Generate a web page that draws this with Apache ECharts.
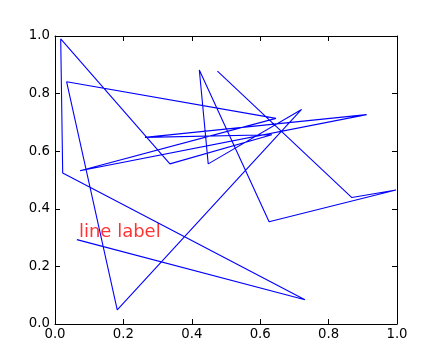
<!DOCTYPE html>
<html>
<head>
<meta charset="utf-8">
<script src="https://cdn.jsdelivr.net/npm/echarts@6/dist/echarts.min.js"></script>
<style>html,body{margin:0;padding:0;background:#fff}#c{width:440px;height:360px}</style>
</head>
<body>
<div id="c"></div>
<script>
// path order of the random line
var xValues = [0.064, 0.731, 0.0225, 0.0167, 0.336, 0.634, 0.263, 0.911, 0.073, 0.646, 0.034, 0.182, 0.721, 0.448, 0.422, 0.626, 0.997, 0.868, 0.475];
var yValues = [0.293, 0.084, 0.524, 0.990, 0.556, 0.657, 0.648, 0.727, 0.532, 0.714, 0.841, 0.049, 0.745, 0.556, 0.882, 0.355, 0.465, 0.439, 0.878];
var tickValues = [0, 0.2, 0.4, 0.6, 0.8, 1.0];
var labelText = 'line label';
var labelPos = [0.07, 0.3];

var pts = xValues.map(function (x, i) { return [x, yValues[i]]; });
var font = 'DejaVu Sans';
function fmt(v) { return v.toFixed(1); }
function axisBase(pos, showLabel, isX) {
  return {
    type: 'value', min: tickValues[0], max: tickValues[tickValues.length - 1],
    interval: tickValues[1] - tickValues[0], position: pos,
    axisLine: { show: true, onZero: false, lineStyle: { color: '#000', width: 1 } },
    axisTick: { show: true, inside: true, length: 5, lineStyle: { color: '#000', width: 1 } },
    axisLabel: { show: showLabel, formatter: fmt, color: '#000', fontSize: 13.3, fontFamily: font, margin: isX ? 4 : 5 },
    splitLine: { show: false }
  };
}
var chart = echarts.init(document.getElementById('c'), null, { renderer: 'canvas' });
chart.setOption({
  animation: false,
  backgroundColor: '#fff',
  grid: { left: 55, right: 43, top: 36, bottom: 36, containLabel: false },
  xAxis: [axisBase('bottom', true, true), axisBase('top', false, true)],
  yAxis: [axisBase('left', true, false), axisBase('right', false, false)],
  series: [
    { type: 'line', data: pts, symbol: 'none', lineStyle: { color: '#0000ff', width: 1.1 }, xAxisIndex: 0, yAxisIndex: 0 },
    { type: 'scatter', data: [labelPos], symbolSize: 0, xAxisIndex: 0, yAxisIndex: 0,
      label: { show: true, formatter: labelText, position: [0, 0], align: 'left', verticalAlign: 'bottom',
        color: '#ff0000', fontSize: 18, fontFamily: font, offset: [0, 4] } }
  ]
});
</script>
</body>
</html>
